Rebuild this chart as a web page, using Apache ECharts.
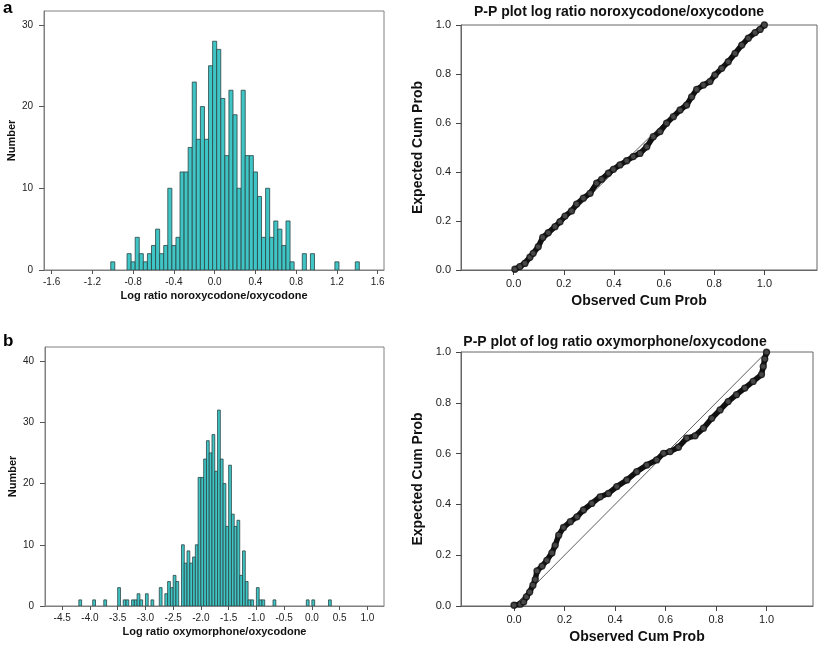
<!DOCTYPE html>
<html>
<head>
<meta charset="utf-8">
<script src="https://cdn.jsdelivr.net/npm/echarts@6/dist/echarts.min.js"></script>
<style>html,body{margin:0;padding:0;background:#fff}#c{width:822px;height:650px}</style>
</head>
<body>
<div id="c"></div>
<script>
// ---------- Panel a: histogram of log ratio noroxycodone/oxycodone (bin width 0.04) ----------
const histA_centers = [-1.00,-0.84,-0.80,-0.76,-0.72,-0.68,-0.64,-0.60,-0.56,-0.52,-0.48,-0.44,-0.40,-0.36,-0.32,-0.28,-0.24,-0.20,-0.16,-0.12,-0.08,-0.04,0.00,0.04,0.08,0.12,0.16,0.20,0.24,0.28,0.32,0.36,0.40,0.44,0.48,0.52,0.56,0.60,0.64,0.68,0.72,0.76,0.88,0.96,1.20,1.40];
const histA_counts  = [1,2,1,4,2,1,2,3,5,2,3,10,3,4,12,12,15,23,16,20,16,25,28,27,21,14,22,19,10,22,14,14,12,9,4,10,4,6,5,3,6,1,2,2,1,1];
const histA_binWidth = 0.04;
const histA_xTicks = [-1.6,-1.2,-0.8,-0.4,0.0,0.4,0.8,1.2,1.6];
const histA_yTicks = [0,10,20,30];

// ---------- Panel b: histogram of log ratio oxymorphone/oxycodone (bin width 0.05) ----------
const histB_centers = [-4.175,-3.925,-3.725,-3.475,-3.375,-3.325,-3.225,-3.175,-3.125,-3.075,-2.975,-2.875,-2.725,-2.625,-2.575,-2.525,-2.475,-2.425,-2.325,-2.275,-2.225,-2.175,-2.125,-2.075,-2.025,-1.975,-1.925,-1.875,-1.825,-1.775,-1.725,-1.675,-1.625,-1.575,-1.525,-1.475,-1.425,-1.375,-1.325,-1.275,-1.225,-1.175,-1.125,-1.075,-0.975,-0.925,-0.875,-0.675,-0.075,0.025,0.325];
const histB_counts  = [1,1,1,3,1,1,1,1,2,1,2,1,3,2,4,3,5,4,10,7,9,7,8,10,21,21,24,27,25,28,22,32,24,20,13,23,15,13,14,5,9,4,1,1,3,1,1,1,1,1,1];
const histB_binWidth = 0.05;
const histB_xTicks = [-4.5,-4.0,-3.5,-3.0,-2.5,-2.0,-1.5,-1.0,-0.5,0.0,0.5,1.0];
const histB_yTicks = [0,10,20,30,40];

// ---------- P-P plots (observed cum prob vs expected cum prob) ----------
const ppA_obs = [0.005,0.025,0.045,0.065,0.078,0.098,0.116,0.138,0.165,0.185,0.205,0.231,0.251,0.278,0.305,0.331,0.351,0.378,0.398,0.424,0.451,0.477,0.504,0.531,0.557,0.584,0.610,0.637,0.664,0.690,0.710,0.730,0.757,0.783,0.803,0.830,0.856,0.883,0.910,0.936,0.963,0.983,1.000];
const ppA_exp = [0.003,0.014,0.027,0.052,0.068,0.095,0.133,0.152,0.177,0.197,0.220,0.241,0.269,0.293,0.313,0.354,0.370,0.395,0.411,0.429,0.446,0.463,0.476,0.503,0.544,0.565,0.599,0.626,0.653,0.673,0.707,0.737,0.755,0.769,0.796,0.823,0.850,0.884,0.918,0.946,0.969,0.982,1.000];
const ppB_obs = [0.000,0.025,0.038,0.049,0.062,0.075,0.084,0.091,0.111,0.130,0.150,0.163,0.177,0.196,0.223,0.249,0.275,0.308,0.341,0.374,0.407,0.447,0.486,0.526,0.565,0.592,0.618,0.651,0.684,0.717,0.750,0.783,0.816,0.848,0.881,0.914,0.947,0.980,0.987,0.993,1.000];
const ppB_exp = [0.003,0.007,0.016,0.036,0.055,0.082,0.104,0.138,0.157,0.180,0.209,0.239,0.279,0.309,0.332,0.351,0.378,0.404,0.430,0.443,0.470,0.496,0.529,0.555,0.575,0.601,0.608,0.625,0.661,0.670,0.700,0.739,0.772,0.805,0.832,0.858,0.884,0.911,0.943,0.972,0.999];
const ppRef = [[0,0],[1,1]];
const ppTicks = [0.0,0.2,0.4,0.6,0.8,1.0];

const FONT = 'Liberation Sans, Arial, Helvetica, sans-serif';
const BAR_FILL = '#3fc5c5';
const BAR_EDGE = '#2c4444';

function zip(a, b) { return a.map((v, i) => [v, b[i]]); }

function histRender(binW) {
  return function (params, api) {
    const c = api.value(0), n = api.value(1);
    const p0 = api.coord([c - binW / 2, n]);
    const p1 = api.coord([c + binW / 2, 0]);
    return {
      type: 'rect',
      shape: { x: p0[0], y: p0[1], width: p1[0] - p0[0], height: p1[1] - p0[1] },
      style: { fill: BAR_FILL, stroke: BAR_EDGE, lineWidth: 0.8 }
    };
  };
}

function histX(gi, min, max, ticks, name) {
  return {
    type: 'value', gridIndex: gi, min: min, max: max,
    name: name, nameLocation: 'middle', nameGap: 20,
    nameTextStyle: { fontFamily: FONT, fontWeight: 'bold', fontSize: 11, color: '#111' },
    axisLine: { show: true, onZero: false, lineStyle: { color: '#808080' } },
    axisTick: { show: true, length: 4, customValues: ticks, lineStyle: { color: '#555' } },
    axisLabel: { customValues: ticks, margin: 7, fontFamily: FONT, fontSize: 10, color: '#222', formatter: v => v.toFixed(1) },
    splitLine: { show: false }
  };
}
function histY(gi, max, ticks) {
  return {
    type: 'value', gridIndex: gi, min: 0, max: max,
    name: 'Number', nameLocation: 'middle', nameGap: 27,
    nameTextStyle: { fontFamily: FONT, fontWeight: 'bold', fontSize: 11, color: '#111' },
    axisLine: { show: true, onZero: false, lineStyle: { color: '#808080' } },
    axisTick: { show: true, length: 5, customValues: ticks, lineStyle: { color: '#555' } },
    axisLabel: { customValues: ticks, margin: 11, fontFamily: FONT, fontSize: 10, color: '#222' },
    splitLine: { show: false }
  };
}
function ppX(gi, min, max) {
  return {
    type: 'value', gridIndex: gi, min: min, max: max,
    name: 'Observed Cum Prob', nameLocation: 'middle', nameGap: 24,
    nameTextStyle: { fontFamily: FONT, fontWeight: 'bold', fontSize: 14, color: '#111' },
    axisLine: { show: true, onZero: false, lineStyle: { color: '#666' } },
    axisTick: { show: true, length: 5, customValues: ppTicks, lineStyle: { color: '#444' } },
    axisLabel: { customValues: ppTicks, margin: 8, fontFamily: FONT, fontSize: 11, color: '#222', formatter: v => v.toFixed(1) },
    splitLine: { show: false }
  };
}
function ppY(gi) {
  return {
    type: 'value', gridIndex: gi, min: 0, max: 1,
    name: 'Expected Cum Prob', nameLocation: 'middle', nameGap: 36,
    nameTextStyle: { fontFamily: FONT, fontWeight: 'bold', fontSize: 14, color: '#111' },
    axisLine: { show: true, onZero: false, lineStyle: { color: '#666' } },
    axisTick: { show: true, length: 5, customValues: ppTicks, lineStyle: { color: '#444' } },
    axisLabel: { customValues: ppTicks, margin: 10, fontFamily: FONT, fontSize: 11, color: '#222', formatter: v => v.toFixed(1) },
    splitLine: { show: false }
  };
}
function ppSeries(xi, obs, exp) {
  return [
    { type: 'line', xAxisIndex: xi, yAxisIndex: xi, data: ppRef, symbol: 'none', silent: true,
      lineStyle: { color: '#333', width: 0.8 }, z: 3 },
    { type: 'line', xAxisIndex: xi, yAxisIndex: xi, data: zip(obs, exp), symbol: 'none', silent: true,
      lineStyle: { color: '#111', width: 5.5, join: 'round', cap: 'round' }, z: 4 },
    { type: 'scatter', xAxisIndex: xi, yAxisIndex: xi, data: zip(obs, exp), symbol: 'circle', symbolSize: 6, silent: true,
      itemStyle: { color: '#555', borderColor: '#111', borderWidth: 1.3 }, z: 5 }
  ];
}

const chart = echarts.init(document.getElementById('c'), null, { renderer: 'canvas' });
chart.setOption({
  animation: false,
  backgroundColor: '#fff',
  grid: [
    { left: 44, top: 11, width: 340, height: 259, show: true, borderColor: '#808080', borderWidth: 1, backgroundColor: 'transparent' },
    { left: 45, top: 347, width: 339, height: 259, show: true, borderColor: '#808080', borderWidth: 1, backgroundColor: 'transparent' },
    { left: 461, top: 25, width: 356, height: 245, show: true, borderColor: '#666', borderWidth: 1, backgroundColor: 'transparent' },
    { left: 461, top: 352, width: 352, height: 254, show: true, borderColor: '#666', borderWidth: 1, backgroundColor: 'transparent' }
  ],
  xAxis: [
    histX(0, -1.675, 1.662, histA_xTicks, 'Log ratio noroxycodone/oxycodone'),
    histX(1, -4.81, 1.30, histB_xTicks, 'Log ratio oxymorphone/oxycodone'),
    ppX(2, -0.21, 1.21),
    ppX(3, -0.21, 1.184)
  ],
  yAxis: [
    histY(0, 31.7, histA_yTicks),
    histY(1, 42.3, histB_yTicks),
    ppY(2),
    ppY(3)
  ],
  graphic: [
    { type: 'text', x: 3, y: 0, style: { text: 'a', fontFamily: FONT, fontWeight: 'bold', fontSize: 17, fill: '#000' } },
    { type: 'text', x: 3, y: 333, style: { text: 'b', fontFamily: FONT, fontWeight: 'bold', fontSize: 17, fill: '#000' } },
    { type: 'text', x: 619, y: 12, style: { text: 'P-P plot log ratio noroxycodone/oxycodone', align: 'center', verticalAlign: 'middle', fontFamily: FONT, fontWeight: 'bold', fontSize: 14, fill: '#111' } },
    { type: 'text', x: 615, y: 342, style: { text: 'P-P plot of log ratio oxymorphone/oxycodone', align: 'center', verticalAlign: 'middle', fontFamily: FONT, fontWeight: 'bold', fontSize: 14, fill: '#111' } }
  ],
  series: [
    { type: 'custom', xAxisIndex: 0, yAxisIndex: 0, renderItem: histRender(histA_binWidth), encode: { x: 0, y: 1 }, data: zip(histA_centers, histA_counts), clip: true },
    { type: 'custom', xAxisIndex: 1, yAxisIndex: 1, renderItem: histRender(histB_binWidth), encode: { x: 0, y: 1 }, data: zip(histB_centers, histB_counts), clip: true },
    ...ppSeries(2, ppA_obs, ppA_exp),
    ...ppSeries(3, ppB_obs, ppB_exp)
  ]
});
</script>
</body>
</html>
